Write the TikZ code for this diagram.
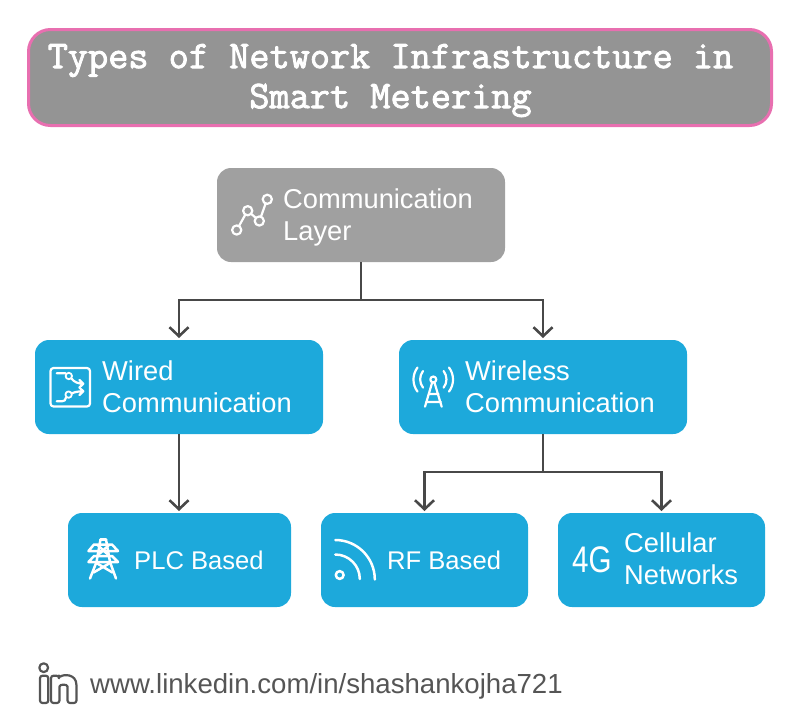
\documentclass[tikz,border=0pt]{standalone}
\usepackage{fontspec}
\setmainfont{Liberation Sans}
\newfontfamily\fourgfont[FakeStretch=0.8]{Liberation Sans}
\newfontfamily\titlefont[FakeBold=2.2]{Latin Modern Mono}
\usetikzlibrary{arrows.meta}
\definecolor{boxblue}{HTML}{1DA9DB}
\definecolor{boxgray}{HTML}{A0A0A0}
\definecolor{titlegray}{HTML}{949494}
\definecolor{titlepink}{HTML}{E86FB0}
\definecolor{linegray}{HTML}{484848}
\definecolor{linkgray}{HTML}{555555}
\tikzset{
	box/.style={rounded corners=14pt,inner sep=0pt,outer sep=0pt},
	bluebox/.style={box,fill=boxblue},
	label/.style={anchor=west,inner sep=0pt,align=left,text=white,font=\fontsize{27.3}{32}\selectfont},
	shortlabel/.style={label,font=\fontsize{25.6}{32}\selectfont},
	conn/.style={draw=linegray,line width=2.6pt},
	arrowconn/.style={conn,shorten >=2pt,-{Straight Barb[length=9pt,width=19pt,line width=2.6pt]}},
	icon/.style={draw=white,line width=2.2pt,line cap=round,line join=round},
	linkicon/.style={draw=linkgray,line width=2.2pt,line join=round},
}
\begin{document}
\begin{tikzpicture}[x=1pt,y=-1pt]
	\useasboundingbox (0,0) rectangle (800,713);

	\node[box,rounded corners=22pt,fill=titlegray,draw=titlepink,line width=3pt,minimum width=743pt,minimum height=96pt] (title) at (400,77.5) {};
	\node[inner sep=0pt,align=center,text=white,font=\titlefont\fontsize{39.15}{40}\selectfont] (titletext) at (390.5,80.5) {Types of Network Infrastructure in\\Smart Metering};

	\node[box,fill=boxgray,minimum width=288pt,minimum height=94pt] (comm) at (361,215) {};
	\node[bluebox,minimum width=288pt,minimum height=94pt] (wired) at (179,387) {};
	\node[bluebox,minimum width=288pt,minimum height=94pt] (wireless) at (543,387) {};
	\node[bluebox,minimum width=223pt,minimum height=94pt] (plc) at (179.5,560) {};
	\node[bluebox,minimum width=207pt,minimum height=94pt] (rf) at (424.5,560) {};
	\node[bluebox,minimum width=207pt,minimum height=94pt] (cellular) at (661.5,560) {};

	\node[label] (commtext) at (283,217.5) {Communication\\Layer};
	\node[label] (wiredtext) at (102,387) {Wired\\Communication};
	\node[label] (wirelesstext) at (465,387) {Wireless\\Communication};
	\node[shortlabel] (plctext) at (134,560) {PLC Based};
	\node[shortlabel] (rftext) at (387,560) {RF Based};
	\node[label,font=\fourgfont\fontsize{37}{40}\selectfont] (fourg) at (572,560) {4G};
	\node[label] (cellulartext) at (624,559) {Cellular\\Networks};
	\node[label,text=linkgray,font=\fontsize{27.6}{32}\selectfont] (link) at (90,686) {www.linkedin.com/in/shashankojha721};

	\coordinate (split) at (361,300);
	\coordinate (wsplit) at (543,472);
	\draw[conn] (comm) -- (split);
	\draw[arrowconn] (split) -| (wired);
	\draw[arrowconn] (split) -| (wireless);
	\draw[arrowconn] (wired) -- (plc.north -| wired);
	\draw[conn] (wireless) -- (wsplit);
	\draw[arrowconn] (wsplit) -| (rf);
	\draw[arrowconn] (wsplit) -| (cellular);

	% communication layer icon
	\draw[icon] (236.7,230) circle (4.6) (247.7,210.7) circle (4.6) (259.3,221) circle (4.6) (267.3,199.3) circle (4.6);
	\draw[icon] (239,226) -- (245.3,214.7) (251,213.7) -- (256,218) (261,216.6) -- (265.6,203.6);

	% wired icon
	\draw[icon,rounded corners=3pt] (50.5,368) rectangle (90,406.5);
	\draw[icon] (56.7,373.3) -- (65.5,373.3) (71.5,378.5) .. controls (74,382) and (78,383.7) .. (83.3,383.7) (79.5,380) -- (83.3,383.7) -- (79.5,387.4);
	\draw[icon] (56.7,401.3) -- (62,401.3) .. controls (64.5,401.3) and (65.5,400) .. (66,397.5) (72,393.3) .. controls (75,391.8) and (79,391.3) .. (83.3,391.3) (79.5,387.6) -- (83.3,391.3) -- (79.5,395);
	\draw[icon,line width=1.8pt] (68.8,376) circle (3.2) (68.6,394.6) circle (3.2);

	% wireless icon
	\draw[icon] (433.3,379.5) circle (3);
	\draw[icon] (432,383) -- (425,406.7) (434.6,383) -- (441.7,406.7) (428.5,394) -- (438.5,394) (426,402) -- (441,402);
	\draw[icon] (423,371) arc (-142:-218:13.5) (443.6,371) arc (-38:38:13.5);
	\draw[icon] (417.5,367.5) arc (-143:-217:20) (449,367.5) arc (-37:37:20);

	% tower icon
	\begin{scope}[icon,line width=2.5pt]
		\draw (100.5,539.5) -- (106,539.5);
		\draw (100.5,539.5) -- (96.5,562) -- (90,578.5) (106,539.5) -- (110,562) -- (116,578.5);
		\draw (94,544.5) -- (112,544.5) -- (118,551) -- (88.5,551) -- cycle;
		\draw (94,556) -- (112,556) -- (118,562) -- (88.5,562) -- cycle;
		\draw (97.5,545) -- (109,555.5) (109,545) -- (97.5,555.5);
		\draw (96.5,563) -- (112.5,572.5) (110,563) -- (93.5,572.5);
	\end{scope}

	% rf icon
	\draw[icon,line width=2.5pt] (339.7,575) circle (3.9);
	\draw[icon,line width=2.5pt] (335.3,554.5) arc (-90:0:24.5);
	\draw[icon,line width=2.5pt] (335.3,540) arc (-90:0:39.5);

	% linkedin icon
	\draw[linkicon] (43.7,667.7) circle (4.4);
	\draw[linkicon,rounded corners=2.5pt] (40,675.7) rectangle (48.3,703);
	\draw[linkicon,rounded corners=2.5pt] (51,703) -- (51,675.7) -- (59,675.7) -- (59,678) .. controls (63,674.5) and (76.5,673) .. (76.5,688) -- (76.5,703) -- (67.5,703) -- (67.5,689) .. controls (67.5,684) and (59.5,684) .. (59.5,689) -- (59.5,703) -- cycle;
\end{tikzpicture}
\end{document}
